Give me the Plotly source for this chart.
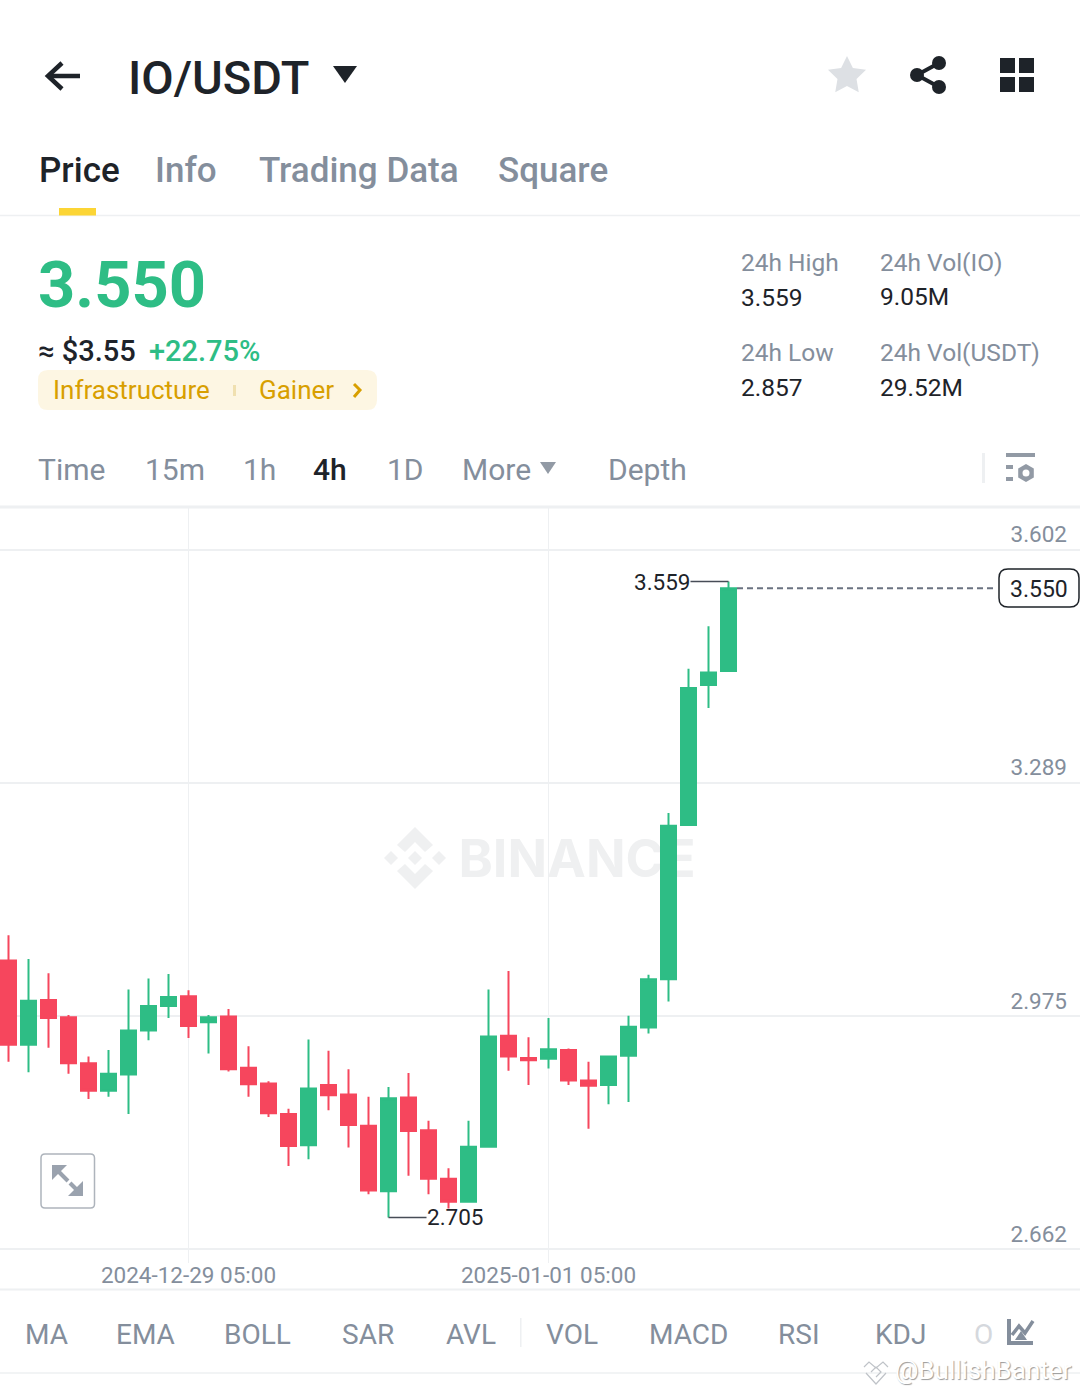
import math
import pandas as pd
import plotly.graph_objects as go

W, H = 1080, 1393

# 4h candles
times = pd.date_range("2024-12-27 17:00", periods=37, freq="4h")
opens = [3.050, 2.937, 2.997, 2.974, 2.912, 2.875, 2.897, 2.956, 2.989, 3.002, 2.967, 2.975,
         2.906, 2.885, 2.844, 2.802, 2.883, 2.870, 2.828, 2.740, 2.866, 2.822, 2.757, 2.726,
         2.800, 2.949, 2.919, 2.918, 2.930, 2.889, 2.883, 2.922, 2.960, 3.025, 3.232, 3.420, 3.439]
highs = [3.084, 3.052, 3.033, 2.977, 2.921, 2.930, 3.011, 3.026, 3.032, 3.010, 2.977, 2.985,
         2.935, 2.888, 2.851, 2.944, 2.929, 2.904, 2.867, 2.880, 2.899, 2.835, 2.771, 2.835,
         3.011, 3.036, 2.947, 2.973, 2.932, 2.914, 2.921, 2.976, 3.031, 3.248, 3.442, 3.499, 3.559]
lows = [2.914, 2.900, 2.933, 2.898, 2.864, 2.867, 2.844, 2.943, 2.973, 2.946, 2.925, 2.901,
        2.867, 2.840, 2.774, 2.783, 2.849, 2.799, 2.736, 2.705, 2.761, 2.736, 2.717, 2.725,
        2.800, 2.902, 2.883, 2.905, 2.883, 2.824, 2.857, 2.860, 2.952, 2.995, 3.232, 3.389, 3.439]
closes = [2.937, 2.996, 2.973, 2.912, 2.875, 2.898, 2.956, 2.989, 3.001, 2.962, 2.974, 2.904,
          2.884, 2.845, 2.801, 2.878, 2.869, 2.829, 2.741, 2.865, 2.821, 2.757, 2.726, 2.800,
          2.948, 2.921, 2.916, 2.931, 2.889, 2.882, 2.921, 2.961, 3.025, 3.231, 3.416, 3.437, 3.550]

price_ticks = [3.602, 3.289, 2.975, 2.662]
price_labels = ["3.602", "3.289", "2.975", "2.662"]
date_ticks = ["2024-12-29 05:00", "2025-01-01 05:00"]
last_price = 3.550
max_price = 3.559
min_price = 2.705

tabs = [("Price", 39, "#1E2329"), ("Info", 155, "#848E9C"), ("Trading Data", 259, "#848E9C"), ("Square", 498, "#848E9C")]
intervals = [("Time", 38), ("15m", 145), ("1h", 243), ("4h", 313), ("1D", 387), ("More", 462), ("Depth", 608)]
indicators = [("MA", 25), ("EMA", 116), ("BOLL", 224), ("SAR", 342), ("AVL", 446), ("VOL", 546), ("MACD", 649), ("RSI", 778), ("KDJ", 875)]
stats = [("24h High", 741, 262, "#848E9C"), ("3.559", 741, 297, "#1E2329"),
         ("24h Vol(IO)", 880, 262, "#848E9C"), ("9.05M", 880, 296, "#1E2329"),
         ("24h Low", 741, 353, "#848E9C"), ("2.857", 741, 388, "#1E2329"),
         ("24h Vol(USDT)", 880, 352, "#848E9C"), ("29.52M", 880, 387, "#1E2329")]

GREEN = "#2EBD85"
RED = "#F6465D"
DARK = "#1E2329"
GREY = "#848E9C"
LINE = "#EEF0F2"
FONT = "Roboto"


def fx(px):
    return px / W


def fy(py):
    return 1 - py / H


def path(points, close=True):
    # pixel points to an svg path in paper coordinates
    s = " ".join(("M" if i == 0 else "L") + f"{fx(x):.5f},{fy(y):.5f}" for i, (x, y) in enumerate(points))
    return s + (" Z" if close else "")


def solid(points, color):
    return dict(type="path", xref="paper", yref="paper", path=path(points), fillcolor=color, line_width=0)


def stroke(points, color, width=2.0, close=False):
    return dict(type="path", xref="paper", yref="paper", path=path(points, close), line=dict(color=color, width=width))


def rect(x0, y0, x1, y1, color):
    return dict(type="rect", xref="paper", yref="paper", x0=fx(x0), x1=fx(x1), y0=fy(y0), y1=fy(y1), fillcolor=color, line_width=0)


def hline(y, color=LINE, width=1.5):
    return dict(type="line", xref="paper", yref="paper", x0=0, x1=1, y0=fy(y), y1=fy(y), line=dict(color=color, width=width))


def circle(cx, cy, r, color):
    return dict(type="circle", xref="paper", yref="paper", x0=fx(cx - r), x1=fx(cx + r), y0=fy(cy - r), y1=fy(cy + r), fillcolor=color, line_width=0)


def rounded(x0, y0, x1, y1, r, fill, edge=None, width=0):
    s = (f"M{fx(x0 + r):.5f},{fy(y0):.5f} L{fx(x1 - r):.5f},{fy(y0):.5f} Q{fx(x1):.5f},{fy(y0):.5f} {fx(x1):.5f},{fy(y0 + r):.5f} "
         f"L{fx(x1):.5f},{fy(y1 - r):.5f} Q{fx(x1):.5f},{fy(y1):.5f} {fx(x1 - r):.5f},{fy(y1):.5f} "
         f"L{fx(x0 + r):.5f},{fy(y1):.5f} Q{fx(x0):.5f},{fy(y1):.5f} {fx(x0):.5f},{fy(y1 - r):.5f} "
         f"L{fx(x0):.5f},{fy(y0 + r):.5f} Q{fx(x0):.5f},{fy(y0):.5f} {fx(x0 + r):.5f},{fy(y0):.5f} Z")
    return dict(type="path", xref="paper", yref="paper", path=s, fillcolor=fill, line=dict(color=edge or fill, width=width))


def star(cx, cy, r):
    pts = []
    for i in range(10):
        a = math.radians(-90 + i * 36)
        rr = r if i % 2 == 0 else r * 0.5
        pts.append((cx + rr * math.cos(a), cy + rr * math.sin(a)))
    return pts


def label(text, x, y, size, color=GREY, weight=400, anchor="left", **kw):
    # left anchored text lands a bit right of x, pull it back
    if anchor == "left":
        x = x - 2.5
    return dict(text=text, xref="paper", yref="paper", x=fx(x), y=fy(y), xanchor=anchor, yanchor="middle",
                showarrow=False, font=dict(family=FONT, size=size, color=color, weight=weight, **kw))


fig = go.Figure(go.Candlestick(
    x=times, open=opens, high=highs, low=lows, close=closes,
    increasing=dict(line=dict(color=GREEN, width=2), fillcolor=GREEN),
    decreasing=dict(line=dict(color=RED, width=2), fillcolor=RED),
    whiskerwidth=0,
))

shapes = []
# watermark sits under the candles
wm = "#EFF0F1"
wm_parts = [
    [(415, 827), (433, 845), (425, 852), (415, 842), (405, 852), (397, 845)],
    [(415, 889), (433, 871), (425, 864), (415, 874), (405, 864), (397, 871)],
    [(415, 851), (422, 858), (415, 865), (408, 858)],
    [(384, 858), (391, 851), (398, 858), (391, 865)],
    [(432, 858), (439, 851), (446, 858), (439, 865)],
]
for pts in wm_parts:
    s = solid(pts, wm)
    s["layer"] = "below"
    shapes.append(s)
shapes.append(dict(type="rect", xref="paper", yref="paper", layer="below", x0=fx(458), x1=fx(696), y0=fy(838), y1=fy(874),
                   line_width=0, fillcolor="rgba(0,0,0,0)",
                   label=dict(text="BINANCE", textposition="middle center",
                              font=dict(family="Inter", size=52, color=wm, weight=700))))

shapes += [hline(215.5), hline(507, LINE, 3), hline(1289.5, LINE, 2), hline(1373, LINE, 1.5)]
shapes.append(rect(59, 208, 96, 215.5, "#FCD535"))

# header icons
shapes.append(stroke([(80, 76), (48, 76)], DARK, 4.5))
shapes.append(stroke([(62, 63), (48, 76), (62, 89)], DARK, 4.5))
shapes.append(solid([(333, 66), (357, 66), (345, 83)], DARK))
shapes.append(solid(star(847, 76, 20), "#DDE0E4"))
shapes.append(stroke([(939, 63), (917, 75), (939, 87)], DARK, 4))
shapes += [circle(939, 63, 7, DARK), circle(917, 75, 7, DARK), circle(939, 87, 7, DARK)]
shapes += [rect(1000, 58, 1015, 73, DARK), rect(1019, 58, 1034, 73, DARK), rect(1000, 77, 1015, 92, DARK), rect(1019, 77, 1034, 92, DARK)]

# tag pill
shapes.append(rounded(38, 370, 377, 410, 10, "#FDF6E3"))
shapes.append(rect(233, 385, 236, 396, "#F0E0B0"))
shapes.append(stroke([(354, 384), (360, 390), (354, 397)], "#D89F00", 3))

# interval row icons
shapes.append(solid([(540, 462), (556, 462), (548, 474)], "#929AA5"))
shapes.append(rect(982, 453, 985, 483, LINE))
shapes.append(rect(1006, 453, 1035, 457, "#929AA5"))
shapes.append(rect(1006, 465, 1013, 469, "#929AA5"))
shapes.append(rect(1006, 477, 1013, 481, "#929AA5"))
hexa = [(1026 + 9 * math.cos(math.radians(60 * i - 90)), 473 + 9 * math.sin(math.radians(60 * i - 90))) for i in range(6)]
shapes.append(solid(hexa, "#929AA5"))
shapes.append(circle(1026, 473, 3.5, "white"))

# expand button
shapes.append(rounded(41, 1154, 94.5, 1208, 4, "white", "#AEB4BC", 1.5))
shapes.append(solid([(52, 1165), (67, 1165), (52, 1180)], "#9AA2AE"))
shapes.append(solid([(83, 1196), (68, 1196), (83, 1181)], "#9AA2AE"))
shapes.append(stroke([(57, 1170), (68, 1181)], "#9AA2AE", 4))
shapes.append(stroke([(78, 1191), (70, 1183)], "#9AA2AE", 4))

# indicator row bits
shapes.append(rect(520, 1318, 521.5, 1347, LINE))
shapes.append(stroke([(1009, 1319), (1009, 1343), (1033, 1343)], "#848E9C", 4))
shapes.append(stroke([(1012, 1335), (1019, 1326), (1025, 1333), (1033, 1321)], "#848E9C", 3.5))
shapes.append(solid([(1015, 1340), (1021, 1331), (1027, 1340)], "#848E9C"))

# stamp logo, bottom right
for pts in ([(864, 1367), (869, 1362), (876, 1368), (883, 1362), (888, 1367)],
            [(866, 1373), (876, 1384), (886, 1373)],
            [(871, 1372), (876, 1367), (881, 1372), (876, 1377)]):
    shapes.append(stroke(pts, "#BFC3C8", 1.2))

# last price guide and tag
shapes.append(dict(type="line", xref="paper", yref="y", x0=fx(737), x1=fx(997), y0=last_price, y1=last_price,
                   line=dict(color="#6A7280", width=2, dash="6px,4px")))
shapes.append(rounded(999, 569, 1079, 607, 9, "white", DARK, 1.5))

# high and low leaders
shapes.append(dict(type="line", xref="x", xsizemode="pixel", xanchor=times[36], x0=-38, x1=0, yref="y", y0=max_price, y1=max_price,
                   line=dict(color="#474D57", width=1.5)))
shapes.append(dict(type="line", xref="x", xsizemode="pixel", xanchor=times[19], x0=0, x1=38, yref="y", y0=min_price, y1=min_price,
                   line=dict(color="#474D57", width=1.5)))

notes = [
    label("IO/USDT", 128, 77, 47, DARK, 500),
    label("3.550", 38, 285, 65, GREEN, 700),
    label("≈ $3.55", 38, 351, 29, DARK, 500),
    label("+22.75%", 149, 351, 29, GREEN, 500),
    label("Infrastructure", 53, 390, 26, "#D89F00"),
    label("Gainer", 259, 390, 26, "#D89F00"),
    label("3.550", 1039, 589, 23, DARK, anchor="center"),
    label("O", 975, 1334, 28, "#D5D8DD"),
    label("@BullishBanter", 895, 1370, 26, "white", shadow="1px 1px 1px #9a9a9a"),
]
for text, x, color in tabs:
    notes.append(label(text, x, 171, 35, color, 500))
for text, x in intervals:
    notes.append(label(text, x, 470, 30, DARK if text == "4h" else GREY, 500 if text == "4h" else 400))
for text, x in indicators:
    notes.append(label(text, x, 1334, 28, GREY))
for text, x, y, color in stats:
    notes.append(label(text, x, y, 24.5, color))
notes.append(dict(text="3.559", x=times[36], y=max_price, xref="x", yref="y", xanchor="right", yanchor="middle", xshift=-36,
                  showarrow=False, font=dict(family=FONT, size=22.5, color=DARK)))
notes.append(dict(text="2.705", x=times[19], y=min_price, xref="x", yref="y", xanchor="left", yanchor="middle", xshift=36,
                  showarrow=False, font=dict(family=FONT, size=22.5, color=DARK)))

fig.update_layout(
    width=W, height=H, autosize=False,
    margin=dict(l=0, r=0, t=0, b=0),
    paper_bgcolor="white", plot_bgcolor="white",
    showlegend=False, boxgap=0.25, boxgroupgap=0,
    shapes=shapes, annotations=notes,
    font=dict(family=FONT),
    xaxis=dict(
        range=["2024-12-27 15:18", "2025-01-05 15:18"],
        domain=[0, 1], rangeslider=dict(visible=False),
        tickvals=date_ticks, ticktext=date_ticks,
        ticklabelstandoff=-4,
        tickfont=dict(size=22.5, color=GREY), ticks="", showline=False, zeroline=False,
        showgrid=True, gridcolor="#EEF0F2", gridwidth=1.2,
    ),
    yaxis=dict(
        range=[2.6438, 3.6591],
        domain=[fy(1263), fy(507)], side="right",
        tickvals=price_ticks, ticktext=price_labels,
        ticklabelposition="inside top",
        ticklabelstandoff=10,
        ticks="", 
        tickfont=dict(size=22.5, color=GREY), showline=False, zeroline=False,
        showgrid=True, gridcolor="#EEF0F2", gridwidth=1.5,
    ),
)

fig.write_html("out.html", config=dict(displayModeBar=False), post_script="document.body.style.margin='0';")
